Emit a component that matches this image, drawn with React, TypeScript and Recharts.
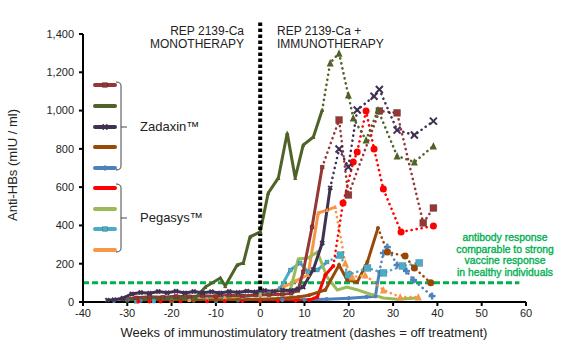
import { Line, LineChart, ReferenceLine, XAxis, YAxis } from "recharts";

type Pt = [number, number];

// axis ticks
const xTicks = [-40, -30, -20, -10, 0, 10, 20, 30, 40, 50, 60];
const yTicks = [0, 200, 400, 600, 800, 1000, 1200, 1400];

// Zadaxin patients: [week, anti-HBs mIU/ml], solid = on treatment, dotted = off
const maroonOn: Pt[] = [[-31, 15], [-28, 22], [-25, 28], [-22, 25], [-19, 30], [-16, 28], [-13, 32], [-10, 30], [-7, 35], [-4, 32], [-1, 36], [2, 38], [5, 40], [7, 45], [8.5, 60], [9.7, 157], [11.7, 392], [14, 705]];
const maroonOff: Pt[] = [[14, 705], [17.8, 951], [19.9, 559], [26.9, 998], [30.9, 988], [36.8, 413], [39.1, 491]];

const oliveOn: Pt[] = [[-30, 10], [-26, 15], [-22, 18], [-18, 20], [-14.5, 24], [-12.4, 78], [-9, 125], [-7.9, 84], [-5.2, 193], [-3.8, 204], [-2.3, 340], [0, 366], [1.8, 569], [4.1, 648], [6.1, 883], [7.9, 648], [9.7, 820], [12, 862], [14, 1003]];
const oliveOff: Pt[] = [[14, 1003], [15.8, 1249], [17.8, 1300], [19.9, 1081], [21, 961], [23.9, 846], [26.6, 1003], [30.9, 763], [34.8, 731], [39.1, 815]];

const purpleOn: Pt[] = [[-34.5, 10], [-33, 12], [-31, 20], [-29, 42], [-27, 50], [-25, 46], [-23, 55], [-21, 48], [-19, 56], [-17, 47], [-15, 55], [-13, 48], [-11, 54], [-9, 47], [-7, 55], [-5, 50], [-3, 57], [-1, 52], [1, 60], [3, 55], [5, 62], [7, 60], [8.5, 68], [9.7, 78], [12, 170], [14, 308], [15.8, 596]];
const purpleOff: Pt[] = [[15.8, 596], [17.8, 799], [19.9, 705], [21.9, 1003], [25.7, 1075], [26.9, 1110], [30.9, 898], [34.8, 872], [39.1, 945]];

const brownOn: Pt[] = [[-20, 5], [-15, 8], [-10, 10], [-5, 12], [0, 15], [4, 18], [8.6, 26], [11, 35], [14.7, 63], [17.8, 193], [19.6, 115], [21.9, 104], [24.2, 209], [26.6, 387]];
const brownOff: Pt[] = [[26.6, 387], [28.7, 261], [32.7, 240], [34.8, 178], [38.5, 100]];

const blueOn: Pt[] = [[-33, 5], [-30, 8], [-27, 6], [-24, 8], [-20, 6], [-15, 8], [-10, 5], [-5, 8], [0, 10], [5, 10], [10, 12], [15, 15], [20, 20], [24, 26], [26, 30], [26.9, 157]];
const blueOff: Pt[] = [[26.9, 157], [27.8, 256], [28.7, 287], [30.9, 193], [33, 162], [34.6, 115], [38.8, 31]];

// Pegasys patients
const redOn: Pt[] = [[-27.5, 3], [-25, 3], [-22.5, 3], [-18, 4], [-12, 4], [-8, 5], [-4, 5], [0, 5], [4, 5], [8, 6], [11, 10], [12.9, 26], [14.7, 141], [16.5, 188]];
const redOff: Pt[] = [[16.5, 188], [18.7, 517], [21, 731], [21.9, 784], [23.9, 998], [25.7, 799], [27.8, 590], [31.8, 366], [39.1, 397]];

const lgreenOn: Pt[] = [[-22, 4], [-20, 6], [-16, 10], [-12, 15], [-8, 20], [-4, 30], [0, 40], [3, 55], [6.8, 63], [8.6, 225], [10.8, 230], [12.9, 261], [15.1, 131], [17.4, 63], [19.6, 78], [22, 63], [24, 47], [27.8, 21], [31, 15], [35.4, 21]];
const lgreenOff: Pt[] = [];

const cyanOn: Pt[] = [[-28, 3], [-24, 5], [-20, 8], [-16, 12], [-12, 15], [-8, 20], [-4, 25], [0, 40], [2, 45], [4.5, 70], [6.8, 167], [9, 204], [10.8, 157], [12.9, 167], [15.1, 209]];
const cyanOff: Pt[] = [[15.1, 209], [18.1, 245], [19.9, 141], [24.2, 178], [27.8, 152], [32.1, 188], [35.9, 204]];

const orangeOn: Pt[] = [[-20, 5], [-16, 10], [-12, 15], [-8, 22], [-4, 30], [0, 40], [3, 55], [5.2, 78], [8, 110], [10.8, 141], [13.1, 465], [15.1, 480], [16.9, 496]];
const orangeOff: Pt[] = [[16.9, 496], [19.2, 204], [20.8, 130], [23.7, 141], [27.8, 63], [31.6, 26], [35.7, 26]];

type Shape = "square" | "triangle" | "star" | "circle" | "plus" | "none";

const series: { id: string; color: string; shape: Shape; on: Pt[]; off: Pt[] }[] = [
  { id: "blue", color: "#4F81BD", shape: "plus", on: blueOn, off: blueOff },
  { id: "cyan", color: "#4BACC6", shape: "square", on: cyanOn, off: cyanOff },
  { id: "orange", color: "#F79646", shape: "triangle", on: orangeOn, off: orangeOff },
  { id: "lgreen", color: "#9BBB59", shape: "none", on: lgreenOn, off: lgreenOff },
  { id: "red", color: "#FF0000", shape: "circle", on: redOn, off: redOff },
  { id: "brown", color: "#984807", shape: "circle", on: brownOn, off: brownOff },
  { id: "maroon", color: "#953735", shape: "square", on: maroonOn, off: maroonOff },
  { id: "olive", color: "#4F6228", shape: "triangle", on: oliveOn, off: oliveOff },
  { id: "purple", color: "#403152", shape: "star", on: purpleOn, off: purpleOff },
];

const legendRows = [
  { color: "#953735", shape: "square" as Shape, y: 85 },
  { color: "#4F6228", shape: "none" as Shape, y: 106 },
  { color: "#403152", shape: "star" as Shape, y: 127 },
  { color: "#984807", shape: "none" as Shape, y: 147 },
  { color: "#4F81BD", shape: "plus" as Shape, y: 168 },
  { color: "#FF0000", shape: "none" as Shape, y: 188 },
  { color: "#9BBB59", shape: "none" as Shape, y: 209 },
  { color: "#4BACC6", shape: "square" as Shape, y: 229 },
  { color: "#F79646", shape: "none" as Shape, y: 250 },
];

const toRows = (pts: Pt[]) => pts.map(([x, y]) => ({ x, y }));

function Marker({ cx, cy, shape, color, size }: { cx: number; cy: number; shape: Shape; color: string; size: number }) {
  const h = size / 2;
  if (shape === "square")
    return <rect x={cx - h} y={cy - h} width={size} height={size} fill={color} stroke="#000" strokeOpacity={0.25} strokeWidth={0.6} />;
  if (shape === "triangle")
    return <polygon points={`${cx},${cy - h - 0.5} ${cx + h},${cy + h} ${cx - h},${cy + h}`} fill={color} />;
  if (shape === "circle") return <circle cx={cx} cy={cy} r={h} fill={color} />;
  if (shape === "star")
    return (
      <g stroke={color} strokeWidth={2}>
        <line x1={cx - h} y1={cy - h} x2={cx + h} y2={cy + h} />
        <line x1={cx - h} y1={cy + h} x2={cx + h} y2={cy - h} />
      </g>
    );
  if (shape === "plus")
    return (
      <g stroke={color} strokeWidth={2.4}>
        <line x1={cx - h} y1={cy} x2={cx + h} y2={cy} />
        <line x1={cx} y1={cy - h} x2={cx} y2={cy + h} />
      </g>
    );
  return <g />;
}

const font = "'Liberation Sans', Arial, sans-serif";

export default function App() {
  return (
    <div style={{ position: "absolute", left: 0, top: 0, width: 562, height: 350, background: "#fff", fontFamily: font }}>
      <LineChart width={562} height={350} margin={{ top: 34, right: 36, left: 0, bottom: 0 }}>
        <XAxis
          dataKey="x"
          type="number"
          domain={[-40, 60]}
          ticks={xTicks}
          allowDataOverflow
          height={48}
          stroke="#000"
          strokeWidth={2}
          tickSize={4}
          tickMargin={3}
          tick={{ fill: "#222", fontSize: 11, fontFamily: font }}
        />
        <YAxis
          type="number"
          domain={[0, 1400]}
          ticks={yTicks}
          width={83}
          stroke="#000"
          strokeWidth={2}
          tickSize={4}
          tickMargin={5}
          tickFormatter={(v: number) => v.toLocaleString("en-US")}
          tick={{ fill: "#222", fontSize: 11, fontFamily: font }}
        />
        <ReferenceLine
          segment={[{ x: -40, y: 100 }, { x: 58.5, y: 100 }]}
          stroke="#00B050"
          strokeWidth={3}
          strokeDasharray="6 3"
          ifOverflow="visible"
        />
        {series.map((s) => (
          <Line
            key={s.id + "-on"}
            data={toRows(s.on)}
            dataKey="y"
            type="linear"
            stroke={s.color}
            strokeWidth={3}
            isAnimationActive={false}
            dot={(p: any) => <Marker key={p.index} cx={p.cx} cy={p.cy} shape={s.shape} color={s.color} size={4} />}
            activeDot={false}
          />
        ))}
        {series
          .filter((s) => s.off.length > 0)
          .map((s) => (
            <Line
              key={s.id + "-off"}
              data={toRows(s.off)}
              dataKey="y"
              type="linear"
              stroke={s.color}
              strokeWidth={2.6}
              strokeDasharray="0.1 5"
              strokeLinecap="round"
              isAnimationActive={false}
              dot={(p: any) =>
                p.index === 0 ? <g key={p.index} /> : <Marker key={p.index} cx={p.cx} cy={p.cy} shape={s.shape} color={s.color} size={7} />
              }
              activeDot={false}
            />
          ))}
        <ReferenceLine
          segment={[{ x: 0, y: 1460 }, { x: 0, y: 0 }]}
          stroke="#000"
          strokeWidth={4}
          strokeDasharray="3.5 2.5"
          ifOverflow="visible"
        />
      </LineChart>
      <svg width={562} height={350} style={{ position: "absolute", left: 0, top: 0, pointerEvents: "none" }} fontFamily={font}>
        <text x={14} y={165} transform="rotate(-90 14 165)" textAnchor="middle" dominantBaseline="middle" fontSize={13} fill="#222">
          Anti-HBs (mIU / ml)
        </text>
        <text x={304} y={337} textAnchor="middle" fontSize={13} fill="#222">
          Weeks of immunostimulatory treatment (dashes = off treatment)
        </text>
        <text x={244} y={35} textAnchor="end" fontSize={12} fill="#222">REP 2139-Ca</text>
        <text x={244} y={48} textAnchor="end" fontSize={12} fill="#222">MONOTHERAPY</text>
        <text x={277} y={35} fontSize={12} fill="#222">REP 2139-Ca +</text>
        <text x={277} y={48} fontSize={12} fill="#222">IMMUNOTHERAPY</text>
        <g fill="#00B050" fontSize={10.4} textAnchor="middle" stroke="#00B050" strokeWidth={0.35}>
          <text x={505} y={241}>antibody response</text>
          <text x={505} y={252.5}>comparable to strong</text>
          <text x={505} y={264}>vaccine response</text>
          <text x={505} y={275.5}>in healthy individuals</text>
        </g>
        {legendRows.map((r) => (
          <g key={r.y}>
            <line x1={95} x2={115} y1={r.y} y2={r.y} stroke={r.color} strokeWidth={4} strokeLinecap="round" />
            <Marker cx={105} cy={r.y} shape={r.shape} color={r.color} size={5} />
          </g>
        ))}
        <path d="M116,82 Q121,82 121,86 L121,166 Q121,170 116,170 M121,127 L127,127" fill="none" stroke="#444" strokeWidth={1} />
        <path d="M116,184 Q121,184 121,188 L121,248 Q121,252 116,252 M121,218 L127,218" fill="none" stroke="#444" strokeWidth={1} />
        <text x={140} y={131} fontSize={13} fill="#222">Zadaxin™</text>
        <text x={140} y={222} fontSize={13} fill="#222">Pegasys™</text>
      </svg>
    </div>
  );
}
